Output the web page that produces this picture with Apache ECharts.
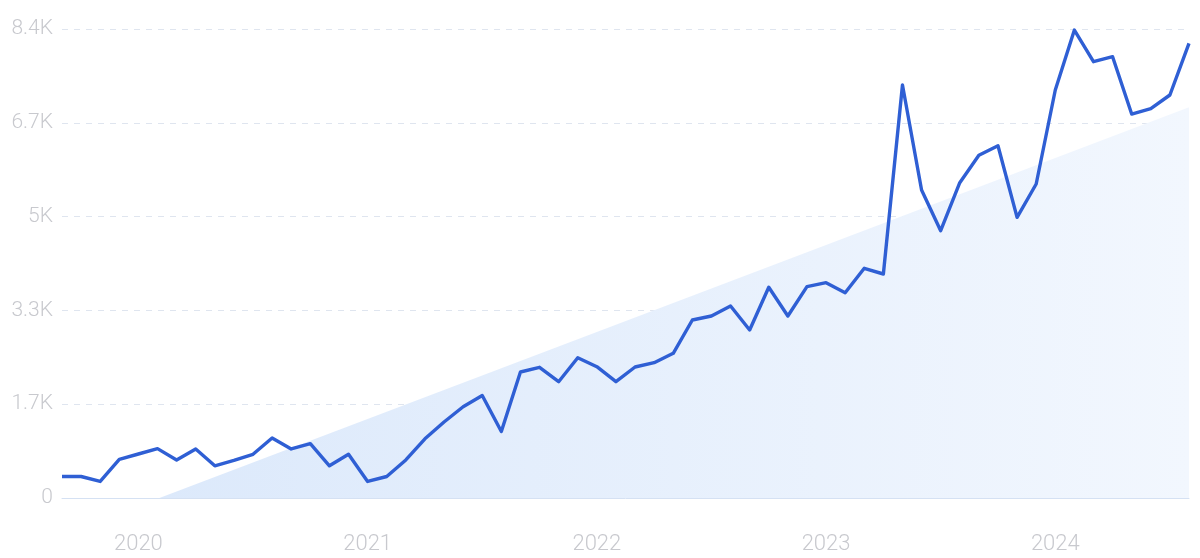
<!DOCTYPE html>
<html>
<head>
<meta charset="utf-8">
<script src="https://cdn.jsdelivr.net/npm/echarts@6/dist/echarts.min.js"></script>
<style>
html,body{margin:0;padding:0;background:#fff;}
#chart{width:1200px;height:558px;}
</style>
</head>
<body>
<div id="chart"></div>
<script>
// Monthly values, Sep 2019 .. Aug 2024
const startYear = 2019, startMonth = 9;
const values = [
  385, 385, 296, 693, 788, 885, 681, 878, 577, 672, 783, 1076,
  878, 974, 577, 783, 296, 385, 681, 1060, 1361, 1635, 1836, 1190,
  2257, 2341, 2083, 2513, 2352, 2083, 2346, 2423, 2592, 3188, 3260, 3439,
  3009, 3774, 3260, 3785, 3856, 3677, 4114, 4012, 7397, 5516, 4788, 5647,
  6138, 6310, 5027, 5624, 7307, 8382, 7814, 7904, 6877, 6973, 7218, 8144
];
const yTickLabels = ['0', '1.7K', '3.3K', '5K', '6.7K', '8.4K'];
const yMax = 8400, yStep = 1680;
// Background trend wedge: [month index, value]
const trendPoints = [[5.1, 0], [59, 7000]];

const categories = [];
for (let i = 0; i < values.length; i++) {
  const m = (startMonth - 1 + i) % 12 + 1;
  const y = startYear + Math.floor((startMonth - 1 + i) / 12);
  categories.push(y + '-' + String(m).padStart(2, '0'));
}

const labelColor = '#c8c9ce';
const chart = echarts.init(document.getElementById('chart'));
chart.setOption({
  animation: false,
  backgroundColor: '#ffffff',
  grid: { left: 62, right: 11, top: 29, bottom: 60, containLabel: false },
  xAxis: [{
    type: 'category',
    data: categories,
    boundaryGap: false,
    axisLine: { show: true, lineStyle: { color: '#d5e1f3', width: 1 } },
    axisTick: { show: false },
    splitLine: { show: false },
    axisLabel: {
      interval: (i, v) => v.endsWith('-01'),
      formatter: v => v.slice(0, 4),
      color: labelColor,
      fontFamily: 'Roboto',
      fontWeight: 300,
      fontSize: 22,
      margin: 35
    }
  }, {
    type: 'value',
    min: 0,
    max: values.length - 1,
    show: false
  }],
  yAxis: {
    type: 'value',
    min: 0,
    max: yMax,
    interval: yStep,
    axisLine: { show: false },
    axisTick: { show: false },
    axisLabel: {
      formatter: v => yTickLabels[Math.round(v / yStep)],
      color: labelColor,
      fontFamily: 'Roboto',
      fontWeight: 300,
      fontSize: 21,
      margin: 9
    },
    splitLine: {
      show: true,
      lineStyle: { color: '#dfe5ef', type: [6, 6], width: 1 }
    }
  },
  series: [{
    type: 'line',
    xAxisIndex: 1,
    data: trendPoints,
    symbol: 'none',
    lineStyle: { width: 0 },
    areaStyle: {
      color: new echarts.graphic.LinearGradient(0, 0, 1, 0, [
        { offset: 0, color: '#dce9fb' },
        { offset: 1, color: '#f2f7fe' }
      ]),
      opacity: 1
    },
    z: 1,
    silent: true
  }, {
    type: 'line',
    data: values,
    symbol: 'none',
    lineStyle: { color: '#2f5fd4', width: 3.4, join: 'round' },
    z: 3
  }]
});
</script>
</body>
</html>
